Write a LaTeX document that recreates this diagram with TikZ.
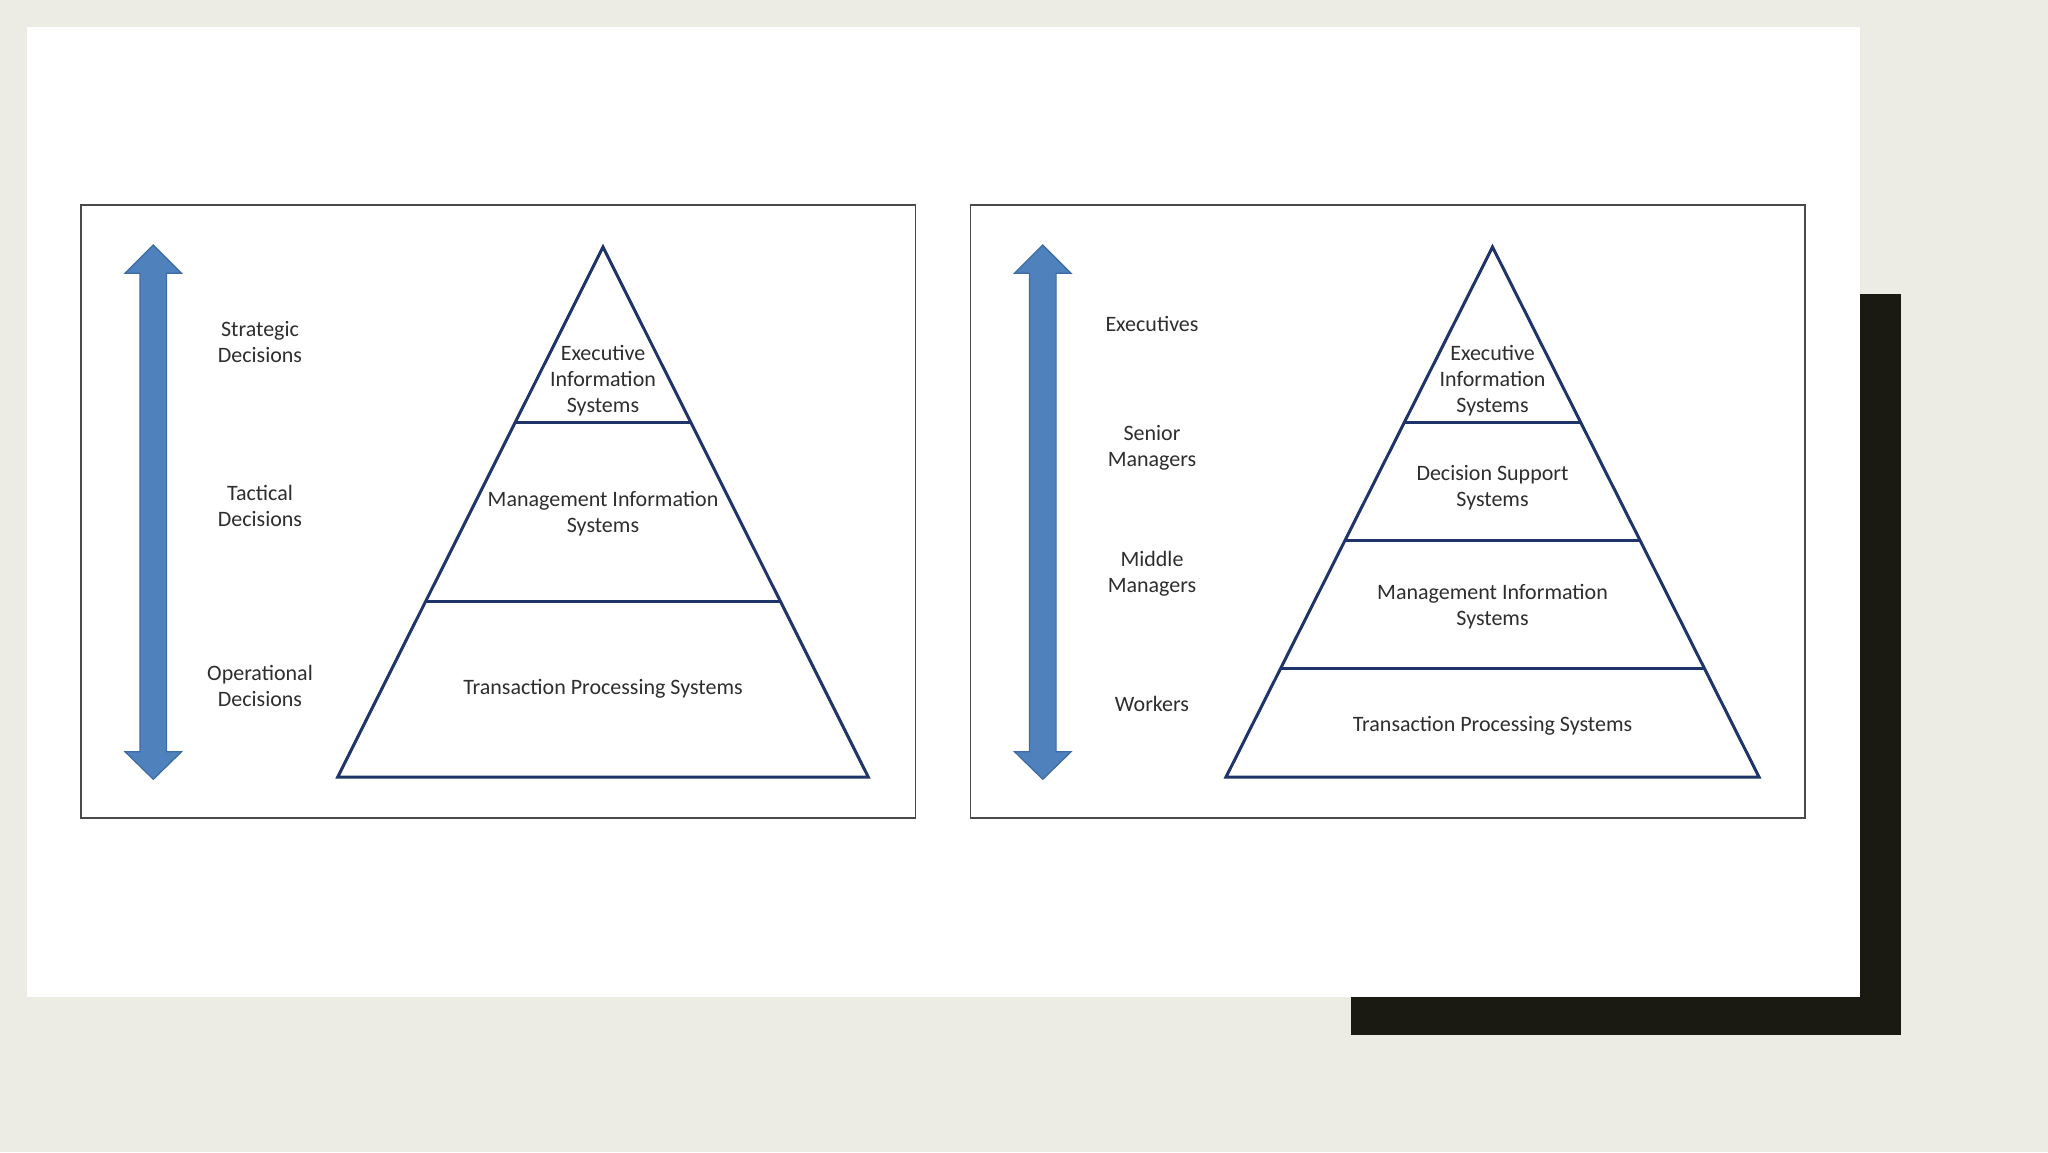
\documentclass[tikz,border=0pt]{standalone}
\usepackage{fontspec}
\setmainfont{Carlito}
\usetikzlibrary{calc}
\definecolor{bgc}{HTML}{ECEBE4}
\definecolor{shadowc}{HTML}{1B1A12}
\definecolor{navy}{HTML}{1F3468}
\definecolor{arrowfill}{HTML}{4F81BD}
\definecolor{arrowdraw}{HTML}{3D6BA3}
\definecolor{txt}{HTML}{2E2E2E}
\definecolor{panelc}{HTML}{4A4A4A}
\newcommand\dblarrowshape[1]{%
  \filldraw[bar] (#1,245) -- ++(28.3,28.3) -- ++(-15,0) -- (#1+13.3,751.7) -- ++(15,0)
    -- (#1,779.3) -- ++(-28.3,-27.6) -- ++(15,0) -- (#1-13.3,273.3) -- ++(-15,0) -- cycle;}
\begin{document}
\begin{tikzpicture}[x=0.5pt,y=-0.5pt,
  lbl/.style={text=txt, font=\fontsize{11}{13}\selectfont, align=center, inner sep=0pt},
  pyr/.style={draw=navy, line width=1.5pt, line join=miter},
  bar/.style={fill=arrowfill, draw=arrowdraw, line width=0.6pt, line join=miter},
  panel/.style={draw=panelc, line width=0.8pt, fill=white}]
\fill[bgc] (0,0) rectangle (2048,1152);
\useasboundingbox (0,0) rectangle (2048,1152);
\fill[shadowc] (1350.5,294) rectangle (1900.5,1034.5);
\fill[white] (27.4,27.4) rectangle (1860,996.6);
\draw[panel] (81,205) rectangle (915.6,818);
\draw[panel] (970.5,205) rectangle (1805,818);

% ---------- left panel ----------
\dblarrowshape{153.3}
\coordinate (LA) at (603,247);
\coordinate (LL) at (337.7,777);
\coordinate (LR) at (868.3,777);
\draw[pyr] (LA) -- (LL) -- (LR) -- cycle;
\draw[pyr] ($(LA)!0.332!(LL)$) -- ($(LA)!0.332!(LR)$);
\draw[pyr] ($(LA)!0.668!(LL)$) -- ($(LA)!0.668!(LR)$);
\node[lbl] (strat) at (260,341.6) {Strategic\\Decisions};
\node[lbl] (tact) at (260,506) {Tactical\\Decisions};
\node[lbl] (oper) at (260,686.4) {Operational\\Decisions};
\node[lbl] (leis) at (603,380.8) {Executive\\Information\\Systems};
\node[lbl] (lmis) at (603,514) {Management Information\\Systems};
\node[lbl] (ltps) at (603,689) {Transaction Processing Systems};

% ---------- right panel ----------
\dblarrowshape{1042.8}
\coordinate (RA) at (1492.5,247);
\coordinate (RL) at (1226,777);
\coordinate (RR) at (1759,777);
\draw[pyr] (RA) -- (RL) -- (RR) -- cycle;
\draw[pyr] ($(RA)!0.332!(RL)$) -- ($(RA)!0.332!(RR)$);
\draw[pyr] ($(RA)!0.554!(RL)$) -- ($(RA)!0.554!(RR)$);
\draw[pyr] ($(RA)!0.796!(RL)$) -- ($(RA)!0.796!(RR)$);
\node[lbl] (exec) at (1152,323.6) {Executives};
\node[lbl] (senior) at (1152,447.4) {Senior\\Managers};
\node[lbl] (middle) at (1152,574) {Middle\\Managers};
\node[lbl] (workers) at (1152,703.7) {Workers};
\node[lbl] (reis) at (1492.5,380.8) {Executive\\Information\\Systems};
\node[lbl] (rdss) at (1492.5,487.9) {Decision Support\\Systems};
\node[lbl] (rmis) at (1492.5,606.7) {Management Information\\Systems};
\node[lbl] (rtps) at (1492.5,725.6) {Transaction Processing Systems};
\end{tikzpicture}
\end{document}
